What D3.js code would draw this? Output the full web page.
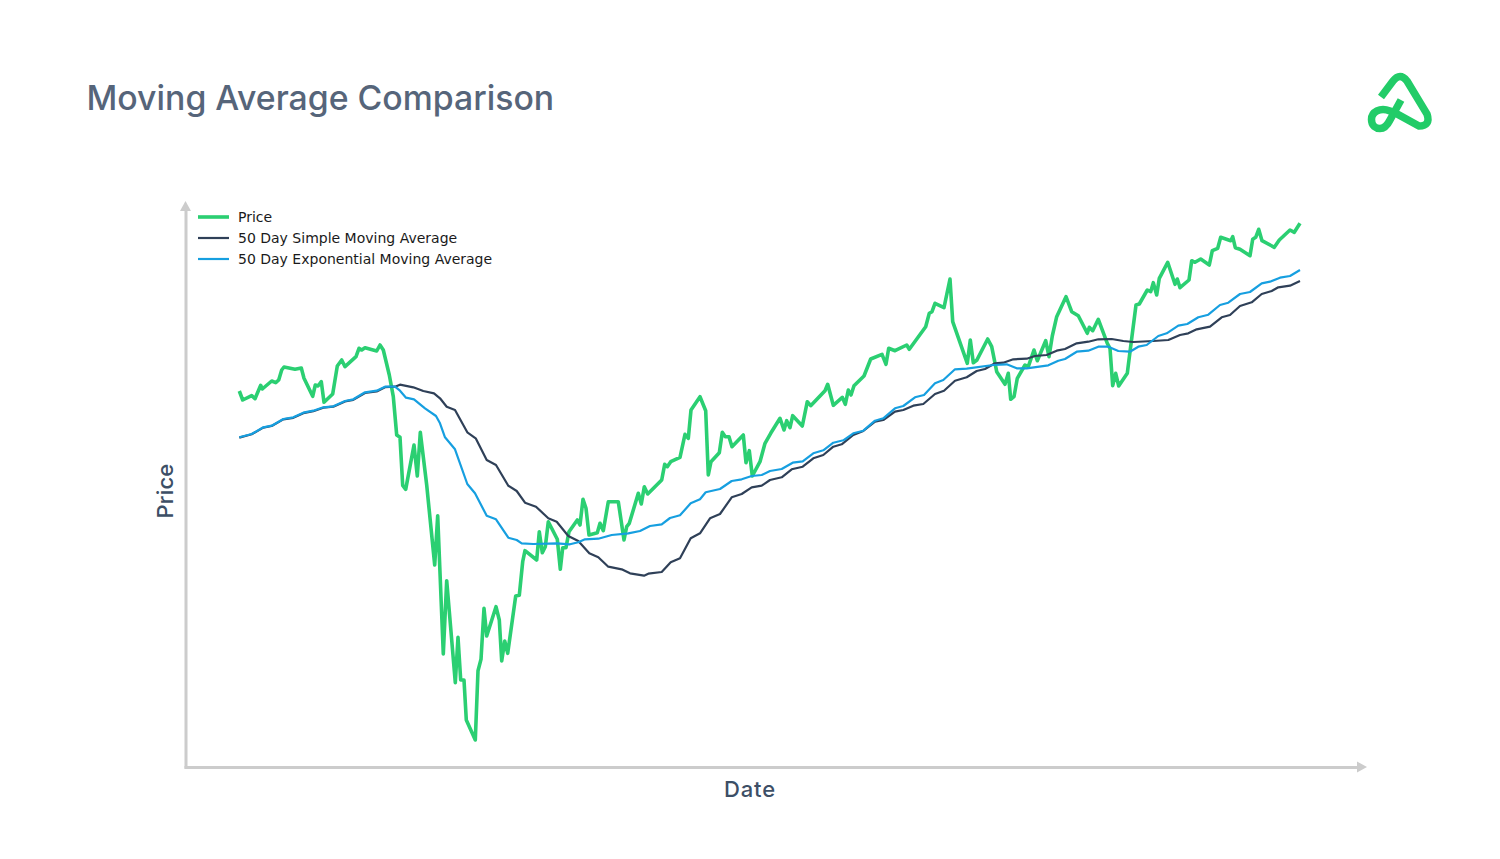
<!DOCTYPE html>
<html>
<head>
<meta charset="utf-8">
<title>Moving Average Comparison</title>
<script src="https://d3js.org/d3.v7.min.js"></script>
<style>
  html, body { margin: 0; padding: 0; background: #fff; }
  svg { display: block; }
  .title { font-family: Inter, sans-serif; font-size: 33.8px; font-weight: 500; fill: #56657a; }
  .axis-label { font-family: Inter, sans-serif; font-size: 22px; font-weight: 500; fill: #3d4f66; }
  .legend-label { font-family: "DejaVu Sans", sans-serif; font-size: 14px; fill: #1a1a1a; }
</style>
</head>
<body>
<div id="chart"></div>
<script>
const svgWidth = 1500;
const svgHeight = 859;

// values, day = trading day offset, value = price in chart units
const priceDays = [0.3,3.7,12.7,16,21.7,23.3,32.7,36.7,39.7,42.7,45,56,62.3,65,73.7,76.3,79,82.3,85,93.7,98.3,102.7,106,117,120,122.7,126,137.7,141,144.3,150.3,154.3,157.7,161,163.7,166.7,175,178.3,181.3,187.7,195.7,198.7,204.3,207.7,216.3,219,221.7,225,227.3,236.3,239,242,245,247.7,257,260.3,262.7,265.7,268.7,276.7,280.3,283.7,286,297.7,300.3,303.3,306.3,309.3,318.3,321.3,323.7,327,330,338.3,341,344,347,350,358.3,361,364.3,369.3,379.3,385,387.7,390.3,399.3,402.3,405.3,408.7,422.7,425.7,428.3,431.7,441,446,449.3,452,461,466.7,469.3,472,480.3,483.3,486.3,490,493,504.3,507,510.3,513.3,521,526,531.7,541,545,547.7,551,553.7,563.3,568.3,571.7,586,588.7,594.3,603.3,606.3,609.3,612,615,625,631.7,643,647,649.7,656,667.7,670.3,686.7,690.3,693,696,705,711,713.7,728.3,731.3,734.3,737.7,748.7,752.7,757.7,766,769.3,771.7,775,778.3,786,789.3,795,798.3,806.7,810,813.3,817.7,827,832.7,839.3,848.3,850.3,853.7,859.3,868.3,871,873.7,876.7,879.7,888.3,891,897,900.3,908.3,911.7,914.3,917.7,920.3,928.7,936,938.3,941,950,952.7,956,961.7,970.3,973.3,978.7,981.7,991.7,993.7,996.3,1001,1011,1013.7,1016.7,1019.7,1023,1035.3,1040.3,1051,1055.3,1061];
const priceValues = [376,367,371.3,368.3,381.7,378,386,384.3,387,397,400,397.7,399,388.7,370.7,382,381,385.3,364.7,373,401,407,400.3,410.3,418.7,417,419.3,416,422,417,392,370.3,332,329.7,281.7,277.7,322,291,334.7,282,202,251.3,113,186.3,84.3,129.7,87,87,47,27,96.3,107.7,158.7,131,160.3,147,106,126,113.7,171,171.7,205.3,216.3,207,235.3,214.3,220.3,245.3,227.7,197.7,219.3,219.3,235.3,247,242,267.7,258.7,232,234.3,243.7,236.3,265.3,265.3,227,240.3,243.7,273.7,263,280.3,273,287,302.7,300.3,305.3,309.7,332.7,328.7,357,370.3,356.3,292,305.3,314.3,334.7,330.3,330.3,320.3,332,304.3,316.3,291,305.3,323.7,333.7,348.7,337,346.3,339.3,351.3,341,365.3,361.3,376.3,382.7,361.7,369.7,362.7,377,372,381.3,391,408,412.7,402.7,418.7,416.3,422,417.7,440.3,453.7,455.3,463.7,459.3,488,445.3,403.7,427,404.3,406.7,428,420.3,395.3,382.7,393.7,367.7,370.3,388.7,402,400.3,417,406.3,426.3,410.3,431,450.3,470.3,455.3,451.3,433.7,439.7,436.3,447.7,423.7,418.7,381.3,393.7,381,393.7,415.3,462,463,477,475.3,484.3,472,488.7,504.7,482.7,488,479.3,487,506.3,504.7,508,502,516.3,518.7,529.7,526.3,530.3,519.3,517.7,511.3,527.7,529.7,537.7,526.3,519.7,527,537,534.7,543.7];

const smaDays = [0.3,12.7,24.3,32.7,44.3,54.3,64.3,74.3,84.3,94.3,106,114.3,126,137.7,146,156,161,174.3,184.3,195,201,207.7,216,228.3,236.7,247.7,257,269.3,277.7,286,297,309.3,317.7,329.3,339.3,350.3,359.3,369.3,382.7,391,405,409.3,422.7,431.7,441,451.7,461,471,481,492.7,502.7,512.7,522.7,531,542.7,552.7,563.7,574.3,584.3,594.3,602.7,614.3,624.3,636,644.3,656,664.3,674.3,684.3,696,705,716,727.7,737.7,746,756,764.3,774.3,787.7,796,807.7,817.7,826,837.7,849.3,859.3,872.7,884.3,894.3,914.3,929.3,941,949.3,957.7,971,982.7,991,1001,1012.7,1022.7,1032.7,1039.3,1051,1061];
const smaValues = [329.4,332.7,339.4,341,347.6,349.2,353.8,355.8,359.3,360.3,365.6,367.2,374,375.6,379.8,380.3,382.3,379.7,376,373.7,368.7,360.3,357,334.7,328.7,307,302,281.3,276,264.3,260.3,248.7,245.3,231,226,213.7,209.7,200.3,197.7,193.7,191.3,193.3,195,204.7,208.7,228.7,233.7,248.7,253,269.7,273,279.7,281.3,287,289.7,297.7,300.3,308.7,312,320.3,322.7,332,336,345.3,347,355.3,357,361.3,363,373,376.3,386.3,389.7,396,398,403.7,404.3,407.7,408.3,411,412,416.3,418,423.7,425.3,427.7,428,426,425,426,427,432,433.7,437.7,440.3,449.7,452,461,464.7,473,476,479.7,481.3,486];

const emaDays = [0.3,12.7,24.3,32.7,44.3,54.3,64.3,74.3,84.3,94.3,106,114.3,126,137.7,146,156,161,167,175,186,197,201,206,216,228.3,236,247.7,257,269.3,277.7,282.7,294.3,317.7,331,339.3,346,359.3,372.7,389.3,401,411,422.7,431,441,451.7,461,466.7,481,492.7,502.7,512.7,522.7,531,542.7,553.7,563.7,574.3,584.3,594.3,604.3,614.3,624.3,636,644.3,656,664.3,676,685,696,704.3,716,727.7,754.3,767.7,777.7,787.7,809.3,819.3,826,837.7,849.3,859.3,869.3,879.3,891,899.3,907.7,919.3,927.7,939.3,948.3,959.3,969.3,981,989.3,1001,1011,1022.7,1031,1041,1051,1061];
const emaValues = [329.7,333,339.7,341.3,348,349.7,354.3,356.3,359.7,360.7,366,367.7,374.7,376.3,380.3,380.3,376.3,369.3,367.7,358.7,351,343.7,329.7,317.7,283,273.7,251.3,247.7,229.3,227,223.7,223,223.7,222.7,224.7,227.7,228.3,232,233.7,236,241,242.7,249,251.7,263.7,267.7,274.7,278,286,287.7,291,292,296,298,304.3,305.7,313.7,316.7,324.3,326.7,333.7,336.3,346.3,348.7,358.7,361,369.7,372,383.7,387,397.7,398.3,402,402.7,398.7,398.7,401.7,406.3,408,415.3,416.3,420.3,420.3,416,415.3,420.3,422,431,433.7,441.3,443,449.7,452.3,462,464.3,473,475,483.7,485.3,489.3,491,497];

const seriesNames = ["Price", "50 Day Simple Moving Average", "50 Day Exponential Moving Average"];
const seriesColors = ["#2bcf72", "#2f4058", "#169fe0"];
const axisColor = "#cccccc";

const svg = d3.select("#chart")
  .append("svg")
  .attr("width", svgWidth)
  .attr("height", svgHeight);

// scales, the plotted data runs x 239-1300 and the value 0 sits on the x axis
const xScale = d3.scaleLinear().domain([0, 1061]).range([239, 1300]);
const yScale = d3.scaleLinear().domain([0, 565]).range([767, 202]);

// axes carry no ticks in the original, only the line with an arrow
const xAxisScale = d3.scaleLinear().domain([xScale.invert(184), xScale.invert(1360)]).range([184, 1360]);
const yAxisScale = d3.scaleLinear().domain([yScale.invert(768), yScale.invert(208)]).range([768, 208]);

const xAxisGroup = svg.append("g")
  .attr("transform", "translate(0, 767)")
  .call(d3.axisBottom(xAxisScale).tickValues([]).tickSizeOuter(0));

const yAxisGroup = svg.append("g")
  .attr("transform", "translate(185.5, 0)")
  .call(d3.axisLeft(yAxisScale).tickValues([]).tickSizeOuter(0));

xAxisGroup.select(".domain").attr("stroke", axisColor).attr("stroke-width", 3);
yAxisGroup.select(".domain").attr("stroke", axisColor).attr("stroke-width", 3);

svg.append("path").attr("d", "M1357,761.5 L1367,767 L1357,772.5 Z").attr("fill", axisColor);
svg.append("path").attr("d", "M180,211 L185.5,201 L191,211 Z").attr("fill", axisColor);

// lines
const line = d3.line()
  .x(d => xScale(d[0]))
  .y(d => yScale(d[1]));

const seriesData = [
  d3.zip(priceDays, priceValues),
  d3.zip(smaDays, smaValues),
  d3.zip(emaDays, emaValues)
];
const lineWidths = [3.6, 2.2, 2.2];

svg.selectAll(".series")
  .data(seriesData)
  .enter()
  .append("path")
  .attr("class", "series")
  .attr("d", line)
  .attr("fill", "none")
  .attr("stroke", (d, i) => seriesColors[i])
  .attr("stroke-width", (d, i) => lineWidths[i])
  .attr("stroke-linejoin", "round");

// legend
const legendRows = svg.selectAll(".legend-row")
  .data(seriesNames)
  .enter()
  .append("g")
  .attr("class", "legend-row")
  .attr("transform", (d, i) => `translate(0, ${217 + i * 21})`);

legendRows.append("line")
  .attr("x1", 198)
  .attr("x2", 229)
  .attr("stroke", (d, i) => seriesColors[i])
  .attr("stroke-width", (d, i) => lineWidths[i]);

legendRows.append("text")
  .attr("class", "legend-label")
  .attr("x", 238)
  .attr("y", 5)
  .text(d => d);

// text
svg.append("text")
  .attr("class", "title")
  .attr("x", 86.5)
  .attr("y", 110)
  .text("Moving Average Comparison");

svg.append("text")
  .attr("class", "axis-label")
  .attr("x", 750)
  .attr("y", 797)
  .attr("text-anchor", "middle")
  .attr("letter-spacing", 0.9)
  .text("Date");

svg.append("text")
  .attr("class", "axis-label")
  .attr("transform", "translate(173, 491) rotate(-90)")
  .attr("text-anchor", "middle")
  .attr("letter-spacing", 0.15)
  .text("Price");

// logo
svg.append("path")
  .attr("d", "M1381,97 L1393,81 Q1400,72 1407,81 L1427,114 Q1431,126 1419,126 L1397,114 L1390,111 C1380,107 1371.5,112 1371.5,119.5 C1371.5,126 1376,128.5 1380,128.5 C1385,128.5 1388,124 1390,120 L1401,100")
  .attr("fill", "none")
  .attr("stroke", "#22cc68")
  .attr("stroke-width", 7.5);
</script>
</body>
</html>
